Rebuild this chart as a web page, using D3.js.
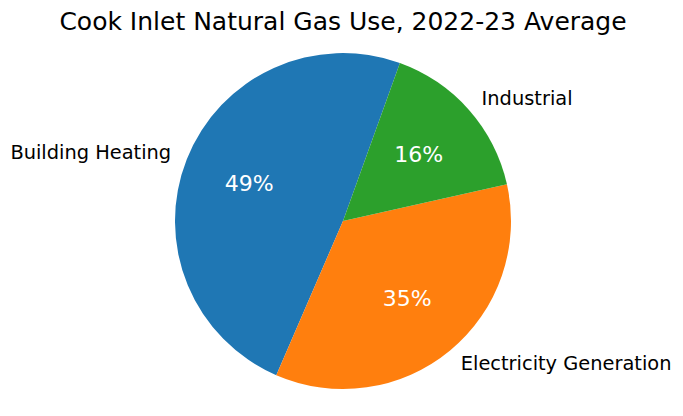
<html>
<head>
<script src="https://d3js.org/d3.v7.min.js"></script>
<style>
  body { margin: 0; background: #fff; }
  text { font-family: "DejaVu Sans", sans-serif; }
</style>
</head>
<body>
<svg width="683" height="416" id="MAINSVG"></svg>
<script>
var categories = ["Building Heating", "Electricity Generation", "Industrial"];
var shares = [49, 35, 16];
var colors = ["#1f77b4", "#ff7f0e", "#2ca02c"];
var title = "Cook Inlet Natural Gas Use, 2022-23 Average";

var SVG = d3.select("#MAINSVG");
var cx = 343, cy = 221, radius = 168;
var start_angle = 70.2;   // degrees, counter-clockwise from 3 o'clock like matplotlib

var total = d3.sum(shares);
var toRad = Math.PI / 180;

// matplotlib angle (ccw from east) -> d3 angle (cw from north)
function d3angle(deg) { return (90 - deg) * toRad; }

var slices = [];
var acc = start_angle;
for (var i = 0; i < shares.length; i++) {
  var span = shares[i] / total * 360;
  slices.push({ name: categories[i], value: shares[i], color: colors[i], a0: acc, a1: acc + span });
  acc += span;
}

var arc = d3.arc().innerRadius(0).outerRadius(radius);

var g = SVG.append("g").attr("transform", "translate(" + cx + "," + cy + ")");

g.selectAll("path.slice")
  .data(slices)
  .enter().append("path")
  .attr("class", "slice")
  .attr("fill", function(d) { return d.color; })
  .attr("d", function(d) {
    // d3 goes clockwise, so swap ends
    return arc({ startAngle: d3angle(d.a1), endAngle: d3angle(d.a0) });
  });

// category labels at 1.1 r
g.selectAll("text.label")
  .data(slices)
  .enter().append("text")
  .attr("class", "label")
  .attr("x", function(d) { return 1.1 * radius * Math.cos((d.a0 + d.a1) / 2 * toRad); })
  .attr("y", function(d) { return -1.1 * radius * Math.sin((d.a0 + d.a1) / 2 * toRad); })
  .attr("text-anchor", function(d) { return Math.cos((d.a0 + d.a1) / 2 * toRad) < 0 ? "end" : "start"; })
  .attr("dominant-baseline", "central")
  .style("font-size", "19.4px")
  .attr("fill", "#000")
  .text(function(d) { return d.name; });

// percent labels at 0.6 r
g.selectAll("text.pct")
  .data(slices)
  .enter().append("text")
  .attr("class", "pct")
  .attr("x", function(d) { return 0.6 * radius * Math.cos((d.a0 + d.a1) / 2 * toRad); })
  .attr("y", function(d) { return -0.6 * radius * Math.sin((d.a0 + d.a1) / 2 * toRad); })
  .attr("text-anchor", "middle")
  .attr("dominant-baseline", "central")
  .style("font-size", "22px")
  .attr("fill", "#fff")
  .text(function(d) { return d3.format(".0f")(d.value / total * 100) + "%"; });

SVG.append("text")
  .attr("x", cx)
  .attr("y", 30)
  .attr("text-anchor", "middle")
  .style("font-size", "25px")
  .attr("fill", "#000")
  .text(title);
</script>
</body>
</html>
